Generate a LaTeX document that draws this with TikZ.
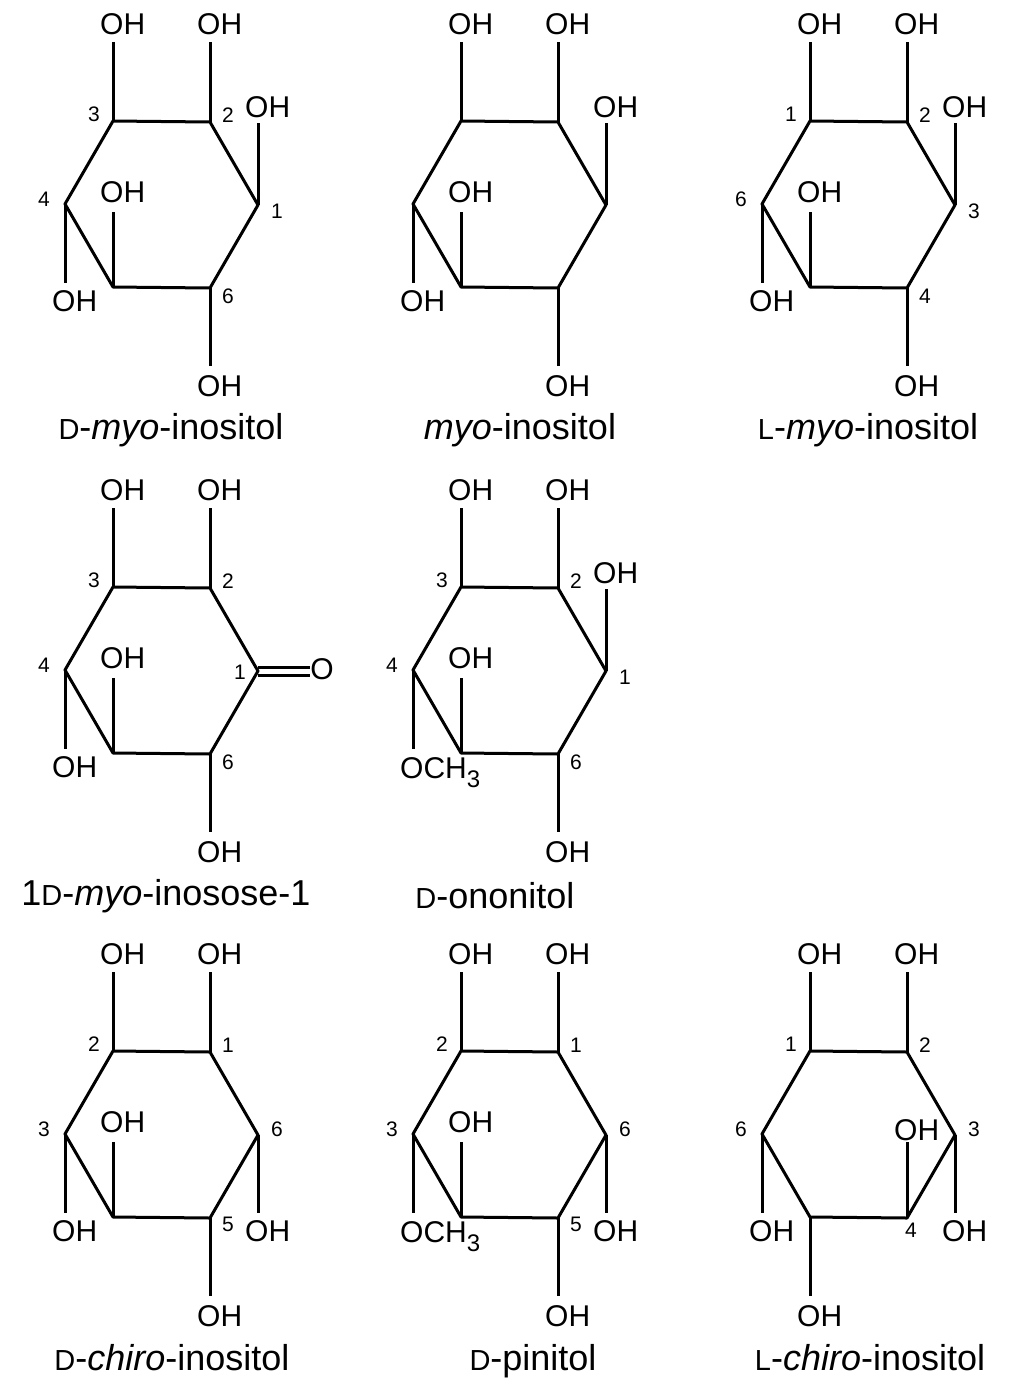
\documentclass[tikz,border=0pt]{standalone}
\usepackage{fontspec}
\setmainfont{Liberation Sans}
\tikzset{bond/.style={line width=3pt},
 oh/.style={font=\fontsize{30}{32}\selectfont,inner sep=0pt,anchor=west},
 num/.style={font=\fontsize{21}{22}\selectfont,inner sep=0pt},
 ttl/.style={font=\fontsize{36}{38}\selectfont,inner sep=0pt}}
\newcommand\smD{{\fontsize{29}{30}\selectfont D}}
\newcommand\smL{{\fontsize{29}{30}\selectfont L}}
\newcommand\ring{%
 \coordinate (a) at (113,121); \coordinate (b) at (210,122); \coordinate (c) at (258,205);
 \coordinate (d) at (210,288); \coordinate (e) at (113,287); \coordinate (f) at (65,204);
 \draw[bond,line join=round] (a)--(b)--(c)--(d)--(e)--(f)--cycle;}
% vertex, bond end y, label y, text
\newcommand\sub[4]{\draw[bond] (#1) -- (#1 |- 0,#2) coordinate (#1end);
 \node[oh] (#1lab) at ([xshift=-13pt]#1 |- 0,#3) {#4};}
\newcommand\myoset{\sub{a}{42}{24}{OH}\sub{b}{42}{24}{OH}\sub{c}{123}{107}{OH}
 \sub{e}{212}{192}{OH}\sub{d}{366}{386}{OH}}
\newcommand\chiroset{\sub{a}{42}{24}{OH}\sub{b}{42}{24}{OH}\sub{c}{283}{301}{OH}
 \sub{e}{212}{192}{OH}\sub{d}{366}{386}{OH}}
\newcommand\ome{\draw[bond] (f) -- (f |- 0,283) coordinate (fend);
 \node[oh,anchor=base west] (flab) at ([xshift=-13pt]f |- 0,312) {OCH\raisebox{-0.3em}{\fontsize{24}{24}\selectfont 3}};}
\begin{document}
\begin{tikzpicture}[x=1pt,y=-1pt]
\useasboundingbox (0,0) rectangle (1020,1385);
% D-myo
\begin{scope}
\ring \myoset \sub{f}{283}{301}{OH}
\node[num] at (94,114) {3}; \node[num] at (228,115) {2}; \node[num] at (277,211) {1};
\node[num] at (44,199) {4}; \node[num] at (228,296) {6};
\node[ttl] at (171,430) {\smD-\textit{myo}-inositol};
\end{scope}
% myo
\begin{scope}[shift={(348,0)}]
\ring \myoset \sub{f}{283}{301}{OH}
\node[ttl] at (172,430) {\textit{myo}-inositol};
\end{scope}
% L-myo
\begin{scope}[shift={(697,0)}]
\ring \myoset \sub{f}{283}{301}{OH}
\node[num] at (94,114) {1}; \node[num] at (228,115) {2}; \node[num] at (277,211) {3};
\node[num] at (44,199) {6}; \node[num] at (228,296) {4};
\node[ttl] at (171,430) {\smL-\textit{myo}-inositol};
\end{scope}
% inosose
\begin{scope}[shift={(0,466)}]
\ring \sub{a}{42}{24}{OH}\sub{b}{42}{24}{OH}\sub{e}{212}{192}{OH}\sub{d}{366}{386}{OH}
\sub{f}{283}{301}{OH}
\node[oh,anchor=center] (o) at (322,203) {O};
\draw[bond] ([yshift=-4pt]c) -- ([yshift=-4pt]c -| o.west);
\draw[bond] ([yshift=4pt]c) -- ([yshift=4pt]c -| o.west);
\node[num] at (94,114) {3}; \node[num] at (228,115) {2}; \node[num] at (240,206) {1};
\node[num] at (44,199) {4}; \node[num] at (228,296) {6};
\node[ttl] at (166,430) {1\smD-\textit{myo}-inosose-1};
\end{scope}
% ononitol
\begin{scope}[shift={(348,466)}]
\ring \myoset \ome
\node[num] at (94,114) {3}; \node[num] at (228,115) {2}; \node[num] at (277,211) {1};
\node[num] at (44,199) {4}; \node[num] at (228,296) {6};
\node[ttl] at (147,430) {\smD-ononitol};
\end{scope}
% D-chiro
\begin{scope}[shift={(0,930)}]
\ring \chiroset \sub{f}{283}{301}{OH}
\node[num] at (94,114) {2}; \node[num] at (228,115) {1}; \node[num] at (277,199) {6};
\node[num] at (44,199) {3}; \node[num] at (228,294) {5};
\node[ttl] at (172,428) {\smD-\textit{chiro}-inositol};
\end{scope}
% pinitol
\begin{scope}[shift={(348,930)}]
\ring \chiroset \ome
\node[num] at (94,114) {2}; \node[num] at (228,115) {1}; \node[num] at (277,199) {6};
\node[num] at (44,199) {3}; \node[num] at (228,294) {5};
\node[ttl] at (185,431) {\smD-pinitol};
\end{scope}
% L-chiro
\begin{scope}[shift={(697,930)}]
\ring \sub{a}{42}{24}{OH}\sub{b}{42}{24}{OH}\sub{c}{283}{301}{OH}
\sub{d}{212}{200}{OH}\sub{e}{366}{386}{OH}\sub{f}{283}{301}{OH}
\node[num] at (94,114) {1}; \node[num] at (228,115) {2}; \node[num] at (277,199) {3};
\node[num] at (44,199) {6}; \node[num] at (214,300) {4};
\node[ttl] at (173,428) {\smL-\textit{chiro}-inositol};
\end{scope}
\end{tikzpicture}
\end{document}
